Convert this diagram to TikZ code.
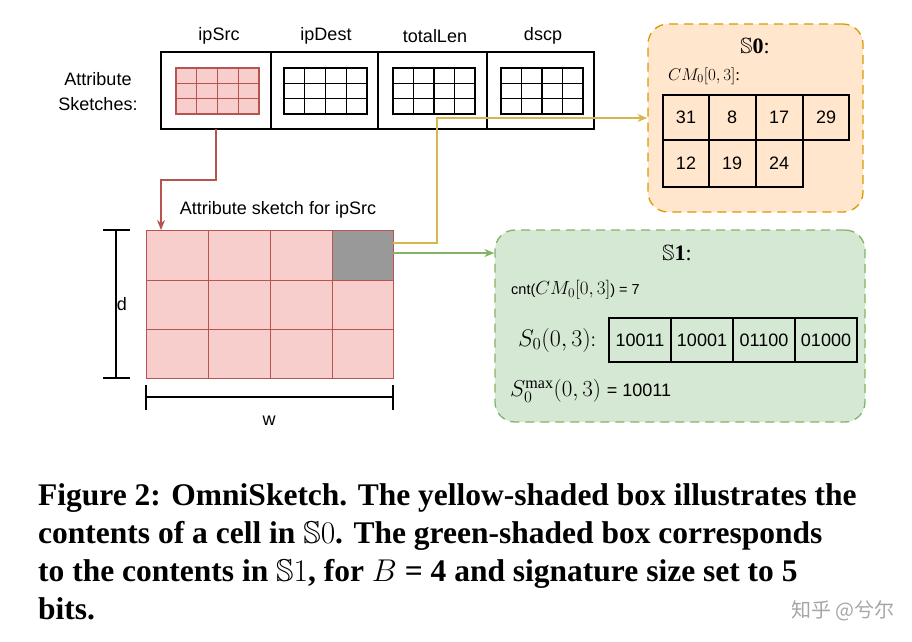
\documentclass[tikz,border=0pt]{standalone}
\usepackage{fix-cm}
\usepackage{amssymb}
\usepackage{fontspec}
\setmainfont{Liberation Serif}
\setsansfont{Liberation Sans}
\newfontfamily\cjk{Noto Sans CJK SC}
\usetikzlibrary{arrows.meta}
\definecolor{rline}{RGB}{184,84,80}
\definecolor{rfill}{RGB}{248,206,204}
\definecolor{oline}{RGB}{215,155,0}
\definecolor{ofill}{RGB}{255,230,204}
\definecolor{gline}{RGB}{130,179,102}
\definecolor{gfill}{RGB}{213,232,212}
\definecolor{yarrow}{RGB}{215,182,80}
\begin{document}
\begin{tikzpicture}[x=1pt,y=-1pt,
  lab/.style={font=\sffamily\fontsize{18}{21}\selectfont,inner sep=0},
  captxt/.style={font=\bfseries\fontsize{31.5}{34}\selectfont,anchor=base west,inner sep=0},
  cell/.style={draw=black,line width=1.3pt}]
\useasboundingbox (0,0) rectangle (912,641);
% top table
\draw[cell] (161,52) rectangle (594,129);
\foreach \x in {271,378,487} \draw[cell] (\x,52) -- (\x,129);
\node[lab] (l1) at (219,36) {ipSrc};
\node[lab] (l2) at (326,36) {ipDest};
\node[lab] (l3) at (435,36) {totalLen};
\node[lab] (l4) at (543,36) {dscp};
\node[lab,align=center] (as) at (98,92) {Attribute\\[4pt]Sketches:};
\fill[rfill] (176,68) rectangle (259,114);
\foreach \a/\b/\c in {176/259/rline,284/367/black,393/475/black,501/583/black}{
  \draw[\c,line width=1.4pt] (\a,68) rectangle (\b,114);
  \foreach \i in {1,2,3} \draw[\c,line width=1.4pt] ({\a+\i*(\b-\a)/4},68) -- ({\a+\i*(\b-\a)/4},114);
  \foreach \j in {1,2} \draw[\c,line width=1.4pt] (\a,{68+\j*46/3}) -- (\b,{68+\j*46/3});
}
% big grid
\fill[rfill] (146,230) rectangle (393,378);
\fill[gray!80] (332,230) rectangle (393,280);
\foreach \x in {208,270,332} \draw[rline,line width=0.9pt] (\x,230) -- (\x,378);
\foreach \y in {280,329} \draw[rline,line width=0.9pt] (146,\y) -- (393,\y);
\draw[rline,line width=0.9pt] (146,230) rectangle (393,378);
\coordinate (g) at (161,230);
\node[lab] (asf) at (278,210) {Attribute sketch for ipSrc};
\draw[rline,line width=1.3pt,-{Stealth[length=10pt,width=8pt]}] (216,129) |- (161,180) -- (g);
% dims
\draw[line width=1.3pt] (116,230) -- (116,378) (103,230)--(130,230) (103,378)--(130,378);
\node[lab] (d) at (122,304) {d};
\draw[line width=1.3pt] (146,397) -- (393,397) (146,385)--(146,410) (393,385)--(393,410);
\node[lab] (w) at (269,421) {w};
% S0 box
\node[draw=oline,fill=ofill,dash pattern=on 9pt off 6pt,line width=1.3pt,rounded corners=20pt,minimum width=215pt,minimum height=188pt,inner sep=0] (s0) at (755.5,118) {};
\node[inner sep=0,font=\fontsize{22}{24}\selectfont] at (755,46) {$\mathbb{S}\mathbf{0}$:};
\node[inner sep=0,anchor=west,font=\fontsize{17}{18}\selectfont] at (668,76) {$CM_0[0,3]$:};
\draw[cell] (663,95) rectangle (849,140);
\draw[cell] (663,140) rectangle (803,187);
\foreach \x in {709,756,803} \draw[cell] (\x,95)--(\x,187);
\foreach \t/\x in {31/686,8/732,17/779,29/826} \node[lab] at (\x,117) {\t};
\foreach \t/\x in {12/686,19/732,24/779} \node[lab] at (\x,163) {\t};
% S1 box
\node[draw=gline,fill=gfill,dash pattern=on 9pt off 6pt,line width=1.3pt,rounded corners=20pt,minimum width=370pt,minimum height=192pt,inner sep=0] (s1) at (680,326) {};
\node[inner sep=0,font=\fontsize{22}{24}\selectfont] at (677,253) {$\mathbb{S}\mathbf{1}$:};
\node[inner sep=0,anchor=west,font=\sffamily\fontsize{14.5}{16}\selectfont] at (511,290) {cnt(\fontsize{19}{20}\selectfont$CM_0[0,3]$\fontsize{14.5}{16}\selectfont) = 7};
\node[inner sep=0,anchor=east,font=\fontsize{24}{26}\selectfont] at (596,340) {$S_0(0,3)$\textsf{\fontsize{18}{20}\selectfont:}};
\draw[cell] (609,318) rectangle (857,362);
\foreach \x in {671,733,795} \draw[cell] (\x,318)--(\x,362);
\foreach \t/\x in {10011/640,10001/702,01100/764,01000/826} \node[lab] at (\x,340) {\t};
\node[inner sep=0,anchor=west,font=\fontsize{23}{26}\selectfont] at (510,391) {$S_0^{\max}(0,3)$ \textsf{\fontsize{18}{20}\selectfont= 10011}};
% connectors
\draw[yarrow,line width=1.2pt,-{Stealth[length=10pt,width=8pt]}] (393,243) -- (437,243) |- (s0.west);
\draw[gline,line width=1.2pt,-{Stealth[length=10pt,width=8pt]}] (393,253) -- (s1.west |- 0,253);
% caption
\node[captxt] at (38,505) {Figure 2: OmniSketch. The yellow-shaded box illustrates the};
\node[captxt] at (38,543) {contents of a cell in $\mathbb{S}0$. The green-shaded box corresponds};
\node[captxt] at (38,581) {to the contents in $\mathbb{S}1$, for $B$ = 4 and signature size set to 5};
\node[captxt] at (38,619) {bits.};
\node[inner sep=0,anchor=base east,text=gray!70,font=\cjk\fontsize{20}{22}\selectfont] at (895,617) {知乎 @兮尔};
\end{tikzpicture}
\end{document}
